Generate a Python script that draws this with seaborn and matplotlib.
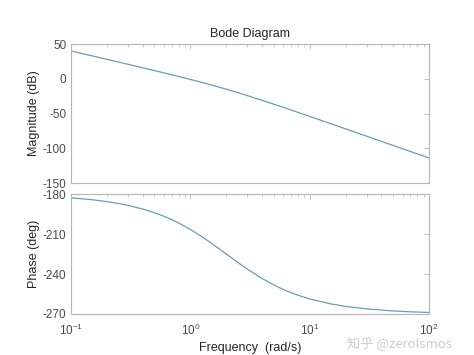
import matplotlib
matplotlib.use("Agg")
import matplotlib.pyplot as plt
import seaborn as sns
import pandas as pd
from matplotlib.ticker import LogLocator, NullFormatter, FixedLocator

freq = [0.1, 0.15, 0.2, 0.25, 0.3, 0.4, 0.5, 0.6, 0.7, 0.8, 1.0, 1.2, 1.5, 2.0,
        2.5, 3.0, 4.0, 5.0, 6.0, 7.0, 8.0, 10.0, 15.0, 20.0, 30.0, 50.0, 70.0, 100.0]
magnitude_db = [39.99, 32.93, 27.92, 24.01, 20.82, 15.75, 11.78, 8.50, 5.70, 3.23,
                -0.97, -4.50, -8.98, -15.05, -20.00, -24.20, -31.07, -36.56, -41.13,
                -45.02, -48.43, -54.15, -64.62, -72.08, -82.62, -95.93, -104.69, -113.98]
phase_deg = [-182.86, -184.29, -185.71, -187.13, -188.53, -191.31, -194.04, -196.70,
             -199.29, -201.80, -206.57, -210.96, -216.87, -225.00, -231.34, -236.31,
             -243.43, -248.20, -251.57, -254.05, -255.96, -258.69, -262.41, -264.29,
             -266.19, -267.71, -268.36, -268.85]
mag_ticks = [50, 0, -50, -100, -150]
phase_ticks = [-180, -210, -240, -270]

df = pd.DataFrame({"freq": freq, "mag": magnitude_db, "phase": phase_deg})

sns.set_style("white")
plt.rcParams["font.family"] = ["Liberation Sans", "DejaVu Sans"]
plt.rcParams["axes.unicode_minus"] = False

line_color = "#6a9db2"
box_color = "#b5b5b5"
tick_label_color = "#4a4a4a"

fig = plt.figure(figsize=(4.74, 3.55), dpi=100)
ax1 = fig.add_axes([0.150, 0.4845, 0.755, 0.3915])
ax2 = fig.add_axes([0.150, 0.1155, 0.755, 0.338])

sns.lineplot(data=df, x="freq", y="mag", ax=ax1, color=line_color, linewidth=0.9)
sns.lineplot(data=df, x="freq", y="phase", ax=ax2, color=line_color, linewidth=0.9)

for ax in (ax1, ax2):
    ax.set_xscale("log")
    ax.set_xlim(0.1, 100)
    ax.xaxis.set_major_locator(LogLocator(base=10, numticks=10))
    ax.xaxis.set_minor_locator(LogLocator(base=10, subs=range(2, 10), numticks=10))
    ax.xaxis.set_minor_formatter(NullFormatter())
    for s in ax.spines.values():
        s.set_color(box_color)
        s.set_linewidth(0.8)
    ax.tick_params(which="both", direction="in", top=True, right=True,
                   color=box_color, labelcolor=tick_label_color, labelsize=8.5)
    ax.tick_params(which="major", length=3.5, width=0.6)
    ax.tick_params(which="minor", length=2, width=0.5)
    ax.tick_params(axis="x", pad=6)
    ax.set_xlabel("")
    ax.set_ylabel("")

ax1.set_ylim(-150, 50)
ax1.yaxis.set_major_locator(FixedLocator(mag_ticks))
ax1.tick_params(labelbottom=False)
ax1.set_ylabel("Magnitude (dB)", fontsize=9, color="#262626", labelpad=2)
ax1.set_title("Bode Diagram", fontsize=9, color="#262626", pad=5)

ax2.set_ylim(-270, -180)
ax2.yaxis.set_major_locator(FixedLocator(phase_ticks))
ax2.set_ylabel("Phase (deg)", fontsize=9, color="#262626", labelpad=2)
ax2.set_xlabel("Frequency  (rad/s)", fontsize=9, color="#262626", labelpad=3)

fig.text(0.733, 0.030, "知乎 @zerolsmos", fontsize=9.5, color="#cccccc",
         family=["Noto Sans CJK SC", "DejaVu Sans"], ha="left", va="center")

fig.savefig("out.png", dpi=100)
